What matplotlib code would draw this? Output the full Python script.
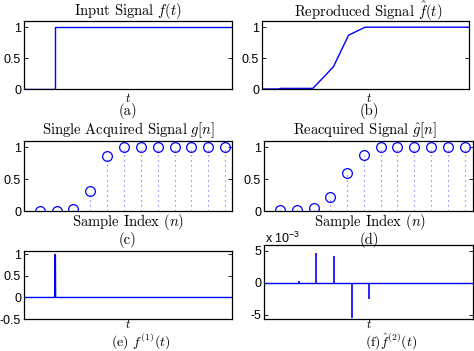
import matplotlib
matplotlib.use("Agg")
import matplotlib.pyplot as plt
import numpy as np

# ---- data ----
t_in = [0.0, 0.15, 0.15, 1.0]
f_in = [0.0, 0.0, 1.0, 1.0]

t_rep = [0.0, 0.08, 0.09, 0.245, 0.26, 0.30, 0.345, 0.418, 0.498, 1.0]
f_rep = [0.0, 0.0, 0.01, 0.01, 0.06, 0.20, 0.36, 0.87, 1.0, 1.0]

n_idx = [1, 2, 3, 4, 5, 6, 7, 8, 9, 10, 11, 12]
g_single = [0.0, 0.0, 0.025, 0.31, 0.86, 1.0, 1.0, 1.0, 1.0, 1.0, 1.0, 1.0]
g_reacq = [0.015, 0.015, 0.055, 0.215, 0.595, 0.885, 1.0, 1.0, 1.0, 1.0, 1.0, 1.0]

t_d1 = [0.0, 0.148, 0.149, 0.151, 0.152, 1.0]
f_d1 = [0.0, 0.0, 1.0, 1.0, 0.0, 0.0]

spike_t = [0.168, 0.25, 0.334, 0.419, 0.50]
spike_h = [0.0002, 0.0046, 0.0041, -0.0056, -0.0026]

yticks_top = [0, 0.5, 1]
yticks_e = [-0.5, 0, 0.5, 1]
yticks_f = [-0.005, 0, 0.005]
yticklabels_f = ['-5', '0', '5']

# ---- style ----
plt.rcParams['mathtext.fontset'] = 'cm'
plt.rcParams['axes.unicode_minus'] = False
W, H = 474, 351
fig = plt.figure(figsize=(W / 100, H / 100), dpi=100)

def ax_px(l, t, r, b):
    return fig.add_axes([l / W, 1 - b / H, (r - l) / W, (b - t) / H])

def ftxt(x, y, s, **kw):
    fig.text(x / W, 1 - y / H, s, ha='center', va='center',
             family='cmr10', fontsize=kw.pop('fontsize', 10.5), **kw)

def style(ax):
    ax.tick_params(direction='in', length=3, right=True, top=False,
                   labelsize=9, width=0.6, pad=2)
    for lab in ax.get_yticklabels():
        lab.set_family('Liberation Sans')
    ax.set_xticks([])
    for s in ax.spines.values():
        s.set_linewidth(0.9)

blue = '#0000ff'

# (a)
ax = ax_px(24, 21, 232, 89)
ax.plot(t_in, f_in, color=blue, lw=1)
ax.set_xlim(0, 1)
ax.set_ylim(0, 1.1)
ax.set_yticks(yticks_top)
ax.set_yticklabels(['0', '0.5', '1'])
style(ax)

# (b)
ax = ax_px(262, 21, 469, 89)
ax.plot(t_rep, f_rep, color=blue, lw=1)
ax.set_xlim(0, 1)
ax.set_ylim(0, 1.1)
ax.set_yticks(yticks_top)
ax.set_yticklabels(['0', '0.5', '1'])
style(ax)

def stem_plot(ax, x, y):
    ml, sl, bl = ax.stem(x, y, linefmt='-', markerfmt='o', basefmt=' ')
    plt.setp(sl, color='#5a5aff', lw=0.8, linestyle=(0, (1, 3.5)))
    plt.setp(ml, markerfacecolor='none', markeredgecolor=blue,
             markersize=7, markeredgewidth=0.9)

# (c)
ax = ax_px(24, 141, 232, 211)
stem_plot(ax, n_idx, g_single)
ax.set_xlim(0.07, 12.41)
ax.set_ylim(0, 1.1)
ax.set_yticks(yticks_top)
ax.set_yticklabels(['0', '0.5', '1'])
style(ax)

# (d)
ax = ax_px(264, 141, 473, 211)
stem_plot(ax, n_idx, g_reacq)
ax.set_xlim(0.05, 12.5)
ax.set_ylim(0, 1.1)
ax.set_yticks(yticks_top)
ax.set_yticklabels(['0', '0.5', '1'])
style(ax)

# (e)
ax = ax_px(24, 251, 232, 319)
ax.plot(t_d1, f_d1, color=blue, lw=1)
ax.set_xlim(0, 1)
ax.set_ylim(-0.5, 1.08)
ax.set_yticks(yticks_e)
ax.set_yticklabels(['-0.5', '0', '0.5', '1'])
style(ax)

# (f)
ax = ax_px(264, 245, 473, 319)
ax.axhline(0, color=blue, lw=1)
ax.vlines(spike_t, 0, spike_h, color=blue, lw=1.2)
ax.set_xlim(0, 1)
ax.set_ylim(-0.0057, 0.0059)
ax.set_yticks(yticks_f)
ax.set_yticklabels(yticklabels_f)
style(ax)
fig.text(265 / W, 1 - 238 / H, r'x $\mathregular{10^{-3}}$', family='Liberation Sans',
         fontsize=9, ha='left', va='center')

# ---- text labels ----
ftxt(128, 11, r'Input Signal $f(t)$')
ftxt(368, 11, r'Reproduced Signal $\hat{f}(t)$')
ftxt(128, 98, r'$t$', fontsize=9)
ftxt(128, 111, '(a)')
ftxt(369, 98, r'$t$', fontsize=9)
ftxt(369, 111, '(b)')
ftxt(129, 130, r'Single Acquired Signal $g[n]$')
ftxt(365, 130, r'Reacquired Signal $\hat{g}[n]$')
ftxt(128, 222, r'Sample Index $(n)$')
ftxt(128, 240, '(c)')
ftxt(370, 222, r'Sample Index $(n)$')
ftxt(369, 240, '(d)')
ftxt(128, 325, r'$t$', fontsize=9)
ftxt(141, 341, r'(e) $f^{(1)}(t)$', fontsize=10)
ftxt(369, 325, r'$t$', fontsize=9)
ftxt(391, 341, r'(f)$\hat{f}^{(2)}(t)$', fontsize=10)

fig.savefig('out.png', dpi=100)
